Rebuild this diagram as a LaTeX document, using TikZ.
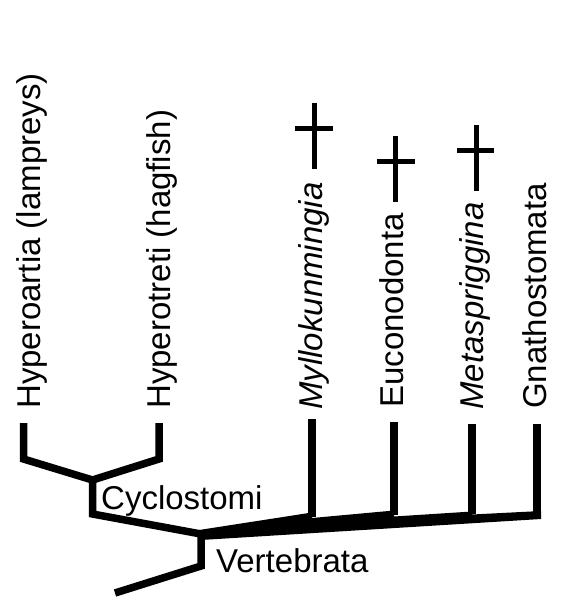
\documentclass[tikz,border=0pt]{standalone}
\usepackage{fontspec}
\setmainfont{Liberation Sans}
\begin{document}
\begin{tikzpicture}[x=1pt,y=-1pt,
  branch/.style={line width=7.5pt, line join=miter},
  extinct/.style={line width=5pt},
  lbl/.style={inner sep=0pt, font=\fontsize{33}{40}\selectfont, rotate=90, anchor=base west},
  clade/.style={inner sep=0pt, font=\fontsize{33}{40}\selectfont, anchor=base west}]
\useasboundingbox (0,0) rectangle (566,602);
% key coordinates
\coordinate (hoTop) at (23.5,423);
\coordinate (hoK) at (23.5,459);
\coordinate (htTop) at (159,423);
\coordinate (htK) at (159,459);
\coordinate (cyc) at (92.5,480);
\coordinate (cycK) at (92.5,514);
\coordinate (vert) at (201,534);
\coordinate (vertK) at (201,566);
\coordinate (root) at (115,593);
\coordinate (myTop) at (312,419);
\coordinate (myBot) at (312,517);
\coordinate (euTop) at (394,422);
\coordinate (euBot) at (394,515);
\coordinate (meTop) at (472,424);
\coordinate (meBot) at (472,514);
\coordinate (gnTop) at (537,424);
\coordinate (gnBot) at (537,519);
% cyclostomes
\draw[branch] (hoTop) -- (hoK) -- (cyc) -- (htK) -- (htTop);
\draw[branch] (cyc) -- (cycK) -- (vert) -- (vertK) -- (root);
% crown wedge
\fill (199,530) -- (312,512.5) -- (312,518) -- (394,510.5) -- (394,516.5)
  -- (472,511.5) -- (472,514.5) -- (541,511) -- (541,519) -- (201,540) -- cycle;
\draw[branch] (myTop) -- (myBot);
\draw[branch] (euTop) -- (euBot);
\draw[branch] (meTop) -- (meBot);
\draw[branch] (gnTop) -- (gnBot);
% extinction crosses
\draw[extinct] (314.5,103) -- (314.5,169) (295,128) -- (333,128);
\draw[extinct] (395.5,136) -- (395.5,202) (377,161.5) -- (415,161.5);
\draw[extinct] (476,125) -- (476,191) (457,150.5) -- (494,150.5);
% labels
\node[lbl] (tHo) at (40,409) {Hyperoartia (lampreys)};
\node[lbl] (tHt) at (170,409) {Hyperotreti (hagfish)};
\node[lbl] (tMy) at (322,410) {\itshape Myllokunmingia};
\node[lbl] (tEu) at (403,408) {Euconodonta};
\node[lbl] (tMe) at (483,410) {\itshape Metaspriggina};
\node[lbl] (tGn) at (546,409) {Gnathostomata};
\node[clade] (tCy) at (101,509) {Cyclostomi};
\node[clade] (tVe) at (216,572) {Vertebrata};
\end{tikzpicture}
\end{document}
